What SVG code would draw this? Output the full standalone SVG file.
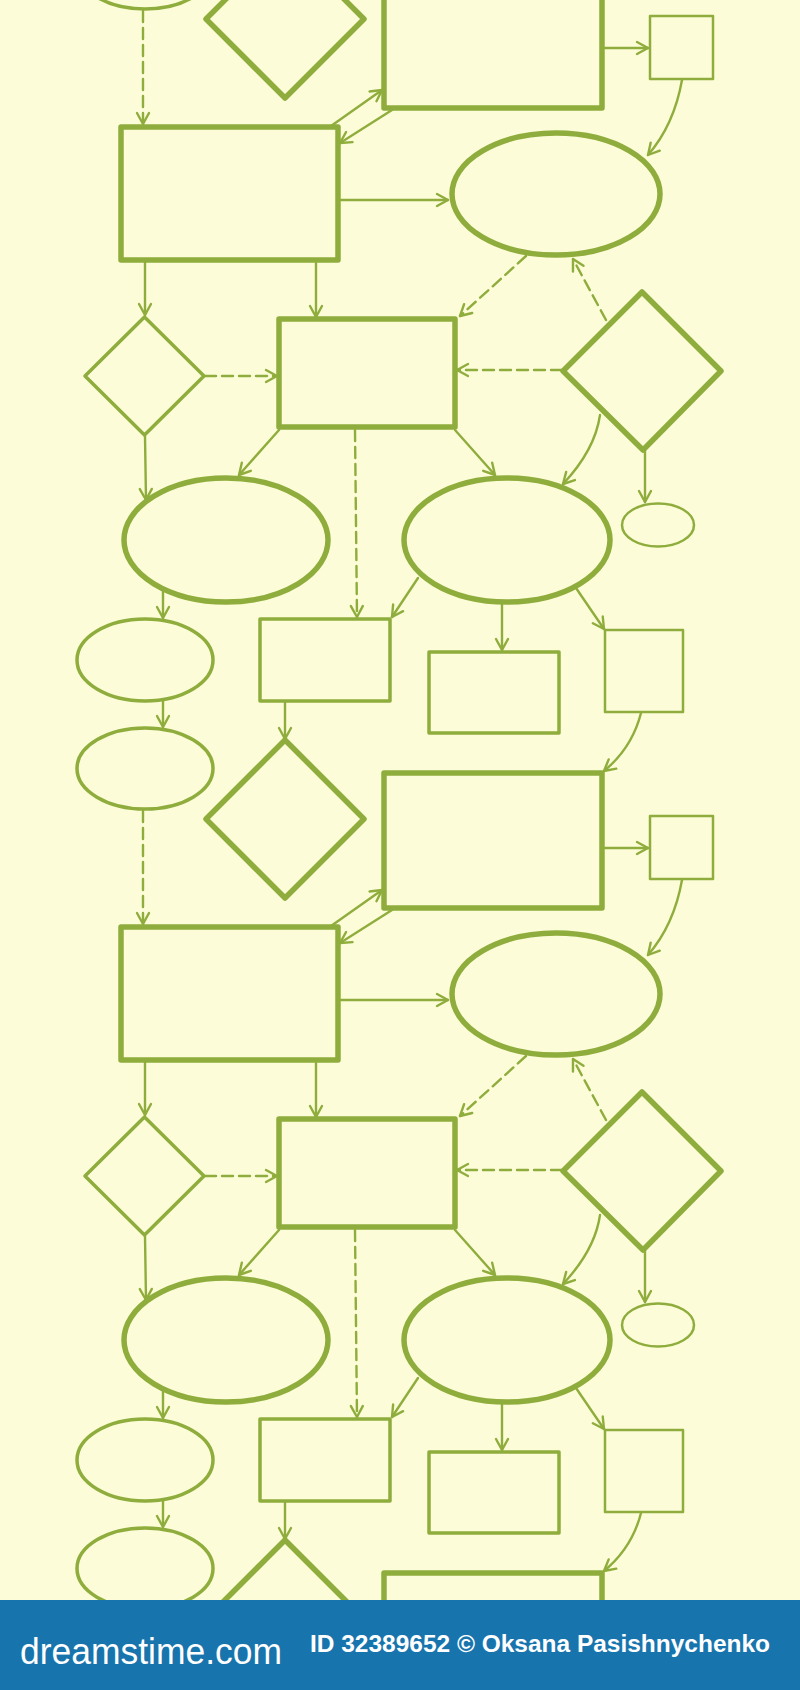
<svg xmlns="http://www.w3.org/2000/svg" width="800" height="1690" viewBox="0 0 800 1690">
<style>
.n{fill:none;stroke:#8fad3d;stroke-linejoin:round}
.k{stroke-width:5.5}
.m{stroke-width:3.5}
.t{stroke-width:2.5}
.e{fill:none;stroke:#8fad3d;stroke-width:2.4;stroke-linecap:round;marker-end:url(#ah)}
.d{stroke-dasharray:11 6}
.b{font-family:"Liberation Sans",Arial,sans-serif;fill:#ffffff}
</style>
<defs>
<marker id="ah" markerUnits="userSpaceOnUse" markerWidth="18" markerHeight="18" viewBox="0 0 18 18" refX="13" refY="9" orient="auto">
<path d="M2,3 L13,9 L2,15" fill="none" stroke="#8fad3d" stroke-width="2.4" stroke-linecap="round" stroke-linejoin="round"/>
</marker>
</defs>
<rect x="0" y="0" width="800" height="1690" fill="#fdfcd8"/>
<g id="connectors">
<path class="e d" d="M143,11 L143,124"/>
<path class="e" d="M331,126 L382,90"/>
<path class="e" d="M392,110 L340,143"/>
<path class="e" d="M603,48 L648,48"/>
<path class="e" d="M682,80 Q674,125 648,155"/>
<path class="e" d="M340,200 L448,200"/>
<path class="e" d="M145,262 L145,315"/>
<path class="e" d="M316,262 L316,317"/>
<path class="e d" d="M526,256 L460,316"/>
<path class="e d" d="M606,320 L573,259"/>
<path class="e d" d="M205,376 L277,376"/>
<path class="e d" d="M562,370 L457,370"/>
<path class="e" d="M279,430 L239,475"/>
<path class="e" d="M455,430 L495,475"/>
<path class="e d" d="M355,430 L357,617"/>
<path class="e" d="M145,436 L146,500"/>
<path class="e" d="M600,415 Q595,450 563,484"/>
<path class="e" d="M645,450 L645,502"/>
<path class="e" d="M163,590 L163,618"/>
<path class="e" d="M163,701 L163,727"/>
<path class="e" d="M418,578 L392,617"/>
<path class="e" d="M502,602 L502,650"/>
<path class="e" d="M576,588 L604,629"/>
<path class="e" d="M641,713 Q632,748 604,771"/>
<path class="e" d="M285,702 L285,739"/>
<path class="e d" d="M143,811 L143,924"/>
<path class="e" d="M331,926 L382,890"/>
<path class="e" d="M392,910 L340,943"/>
<path class="e" d="M603,848 L648,848"/>
<path class="e" d="M682,880 Q674,925 648,955"/>
<path class="e" d="M340,1000 L448,1000"/>
<path class="e" d="M145,1062 L145,1115"/>
<path class="e" d="M316,1062 L316,1117"/>
<path class="e d" d="M526,1056 L460,1116"/>
<path class="e d" d="M606,1120 L573,1059"/>
<path class="e d" d="M205,1176 L277,1176"/>
<path class="e d" d="M562,1170 L457,1170"/>
<path class="e" d="M279,1230 L239,1275"/>
<path class="e" d="M455,1230 L495,1275"/>
<path class="e d" d="M355,1230 L357,1417"/>
<path class="e" d="M145,1236 L146,1300"/>
<path class="e" d="M600,1215 Q595,1250 563,1284"/>
<path class="e" d="M645,1250 L645,1302"/>
<path class="e" d="M163,1390 L163,1418"/>
<path class="e" d="M163,1501 L163,1527"/>
<path class="e" d="M418,1378 L392,1417"/>
<path class="e" d="M502,1402 L502,1450"/>
<path class="e" d="M576,1388 L604,1429"/>
<path class="e" d="M641,1513 Q632,1548 604,1571"/>
<path class="e" d="M285,1502 L285,1539"/>
</g>
<g id="ellipseB_top"><ellipse class="n m" cx="145" cy="-31.5" rx="68" ry="40.5"/></g>
<g id="diamondM_top"><polygon class="n k" points="285,-60 364,19 285,98 206,19"/></g>
<g id="bigRectT_top"><rect class="n k" x="384" y="-27" width="218" height="135"/></g>
<g id="smallSq_top"><rect class="n t" x="650" y="16" width="63" height="63"/></g>
<g id="bigRectL_0"><rect class="n k" x="121" y="127" width="217" height="133"/></g>
<g id="ellipseR_0"><ellipse class="n k" cx="556" cy="194" rx="104" ry="61"/></g>
<g id="diamondL_0"><polygon class="n m" points="144.5,317 204,376 144.5,435 85,376"/></g>
<g id="midRect_0"><rect class="n k" x="279" y="319" width="176" height="108"/></g>
<g id="diamondR_0"><polygon class="n k" points="642,292 721,371 643,450 563,371"/></g>
<g id="ellipseL_0"><ellipse class="n k" cx="226" cy="540" rx="102" ry="62"/></g>
<g id="ellipseR2_0"><ellipse class="n k" cx="507" cy="540" rx="103" ry="62"/></g>
<g id="smallEllipse_0"><ellipse class="n t" cx="658" cy="525" rx="36" ry="21.5"/></g>
<g id="ellipseA_0"><ellipse class="n m" cx="145" cy="660" rx="68" ry="41"/></g>
<g id="lowRect1_0"><rect class="n m" x="260" y="619" width="130" height="82"/></g>
<g id="lowRect2_0"><rect class="n m" x="429" y="652" width="130" height="81"/></g>
<g id="lowRect3_0"><rect class="n t" x="605" y="630" width="78" height="82"/></g>
<g id="ellipseB_0"><ellipse class="n m" cx="145" cy="768.5" rx="68" ry="40.5"/></g>
<g id="diamondM_0"><polygon class="n k" points="285,740 364,819 285,898 206,819"/></g>
<g id="bigRectT_0"><rect class="n k" x="384" y="773" width="218" height="135"/></g>
<g id="smallSq_0"><rect class="n t" x="650" y="816" width="63" height="63"/></g>
<g id="bigRectL_1"><rect class="n k" x="121" y="927" width="217" height="133"/></g>
<g id="ellipseR_1"><ellipse class="n k" cx="556" cy="994" rx="104" ry="61"/></g>
<g id="diamondL_1"><polygon class="n m" points="144.5,1117 204,1176 144.5,1235 85,1176"/></g>
<g id="midRect_1"><rect class="n k" x="279" y="1119" width="176" height="108"/></g>
<g id="diamondR_1"><polygon class="n k" points="642,1092 721,1171 643,1250 563,1171"/></g>
<g id="ellipseL_1"><ellipse class="n k" cx="226" cy="1340" rx="102" ry="62"/></g>
<g id="ellipseR2_1"><ellipse class="n k" cx="507" cy="1340" rx="103" ry="62"/></g>
<g id="smallEllipse_1"><ellipse class="n t" cx="658" cy="1325" rx="36" ry="21.5"/></g>
<g id="ellipseA_1"><ellipse class="n m" cx="145" cy="1460" rx="68" ry="41"/></g>
<g id="lowRect1_1"><rect class="n m" x="260" y="1419" width="130" height="82"/></g>
<g id="lowRect2_1"><rect class="n m" x="429" y="1452" width="130" height="81"/></g>
<g id="lowRect3_1"><rect class="n t" x="605" y="1430" width="78" height="82"/></g>
<g id="ellipseB_1"><ellipse class="n m" cx="145" cy="1568.5" rx="68" ry="40.5"/></g>
<g id="diamondM_1"><polygon class="n k" points="285,1540 364,1619 285,1698 206,1619"/></g>
<g id="bigRectT_1"><rect class="n k" x="384" y="1573" width="218" height="135"/></g>
<g id="banner">
<rect x="0" y="1600" width="800" height="90" fill="#1874ad"/>
<text class="b" x="20" y="1664" font-size="37" textLength="262" lengthAdjust="spacingAndGlyphs">dreamstime.com</text>
<text class="b" x="310" y="1652" font-size="23" font-weight="bold" textLength="460" lengthAdjust="spacingAndGlyphs">ID 32389652 © Oksana Pasishnychenko</text>
</g>
</svg>
